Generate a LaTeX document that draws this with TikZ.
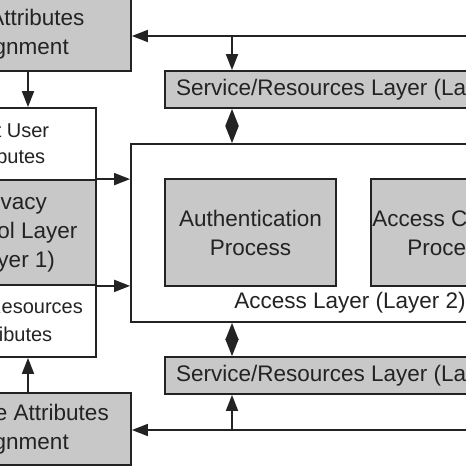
\documentclass[tikz,border=0pt]{standalone}
\usepackage{fontspec}
\setmainfont{Liberation Sans}
\usepackage{tikz}
\usetikzlibrary{arrows.meta}
\usepackage{xcolor}
\definecolor{ColFill}{RGB}{200,200,200}
\definecolor{ColLine}{RGB}{35,35,35}
\tikzstyle{GrayBox}=[rectangle,draw=ColLine,fill=ColFill,line width=1.8pt,inner sep=0pt,
align=center,text=ColLine,font=\fontsize{22.5}{29}\selectfont]
\tikzstyle{WhiteBox}=[GrayBox,fill=white,font=\fontsize{20}{28}\selectfont]
\tikzstyle{LayerText}=[inner sep=0pt,align=center,text=ColLine,font=\fontsize{22.5}{29}\selectfont]
\tikzstyle{ArrowLine}=[ColLine,line width=1.8pt,-{Triangle[length=16pt,width=12pt]}]
\tikzstyle{BiArrowLine}=[ColLine,line width=1.8pt,
{Triangle[length=17pt,width=13pt]}-{Triangle[length=17pt,width=13pt]}]

\begin{document}
\begin{tikzpicture}[x=1pt,y=-1pt]
        \useasboundingbox(0,0)rectangle(466,466);
        \clip(0,0)rectangle(466,466);
        \node[GrayBox,minimum width=242pt,minimum height=73pt](uattr)at(10,34.5){User Attributes\\Assignment};
        \node[WhiteBox,minimum width=172pt,minimum height=72pt](uin)at(10,144){};
        \node[LayerText,font=\fontsize{20}{26}\selectfont](uintxt)at(3,144){Input User\\Attributes};
        \node[GrayBox,minimum width=172pt,minimum height=105pt](priv)at(10,232.5){Privacy\\Control Layer\\(Layer 1)};
        \node[WhiteBox,minimum width=172pt,minimum height=72pt](rin)at(10,321){Input Resources\\Attributes};
        \node[GrayBox,minimum width=242pt,minimum height=72pt](rattr)at(10,429){Resource Attributes\\Assignment};
        \node[GrayBox,minimum width=370pt,minimum height=37pt](svtop)at(350,89.5){Service/Resources Layer (Layer 3)};
        \node[WhiteBox,minimum width=438pt,minimum height=178pt](acc)at(350,233){};
        \node[LayerText](acclbl)at([yshift=20pt]acc.south){Access Layer (Layer 2)};
        \node[GrayBox,minimum width=171pt,minimum height=107pt](auth)at(250.5,232.5){Authentication\\Process};
        \node[GrayBox,minimum width=154pt,minimum height=107pt](acp)at(448,232.5){Access Control\\Process};
        \node[GrayBox,minimum width=370pt,minimum height=37pt](svbot)at(350,375.5){Service/Resources Layer (Layer 3)};
        \coordinate(tr)at(480,36);
        \coordinate(tj)at(232,36);
        \coordinate(br)at(480,430);
        \coordinate(bj)at(232,430);
        \draw[ArrowLine](tr)--(tr-|uattr.east);
        \draw[ArrowLine](tj)--(tj|-svtop.north);
        \draw[BiArrowLine](tj|-svtop.south)--(tj|-acc.north);
        \draw[BiArrowLine](bj|-acc.south)--(bj|-svbot.north);
        \draw[ArrowLine](bj)--(bj|-svbot.south);
        \draw[ArrowLine](br)--(br-|rattr.east);
        \draw[ArrowLine]([xshift=18pt]uattr.south)--([xshift=18pt]uin.north);
        \draw[ArrowLine]([xshift=18pt]rattr.north)--([xshift=18pt]rin.south);
        \draw[ArrowLine](priv.north east)--(priv.north east-|acc.west);
        \draw[ArrowLine](priv.south east)--(priv.south east-|acc.west);
    \end{tikzpicture}
\end{document}
